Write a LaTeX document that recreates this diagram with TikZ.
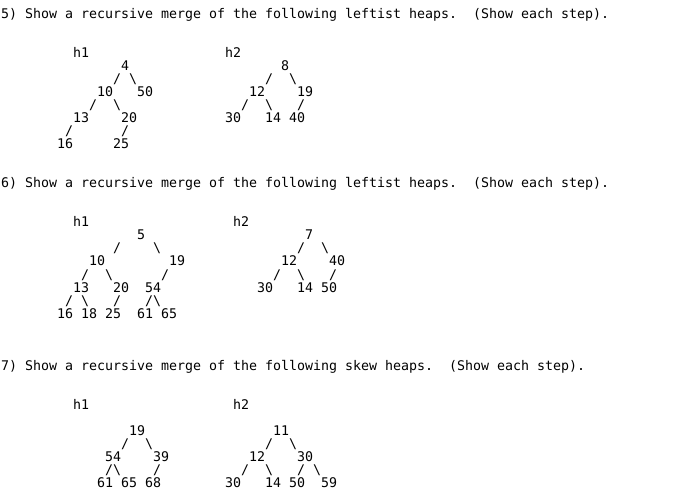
\documentclass[tikz,border=0pt]{standalone}
\usepackage{fontspec}
\newfontfamily\monofam{DejaVu Sans Mono}
\newcommand{\monosz}{\monofam\fontsize{13.29bp}{13bp}\selectfont}
% token: name, column, line, text
\newcommand{\tk}[4]{\node[tok] (#1) at ({1+8*#2},{-(19+13*#3)}) {#4};}
\newcommand{\bs}{\textbackslash}
\begin{document}
\begin{tikzpicture}[x=1bp,y=1bp,
  tok/.style={anchor=base west,inner sep=0pt,outer sep=0pt,font=\monosz,text=black}]
\useasboundingbox[fill=white] (0,0) rectangle (675,-503);
% ---------- 5 ----------
\tk{t5}{0}{0}{5) Show a recursive merge of the following leftist heaps.\ \ (Show each step).}
\tk{a-h1}{9}{3}{h1}
\tk{a-h2}{28}{3}{h2}
\tk{a4}{15}{4}{4}
\tk{a4l}{14}{5}{/}
\tk{a4r}{16}{5}{\bs}
\tk{a10}{12}{6}{10}
\tk{a50}{17}{6}{50}
\tk{a10l}{11}{7}{/}
\tk{a10r}{14}{7}{\bs}
\tk{a13}{9}{8}{13}
\tk{a20}{15}{8}{20}
\tk{a13l}{8}{9}{/}
\tk{a20l}{15}{9}{/}
\tk{a16}{7}{10}{16}
\tk{a25}{14}{10}{25}
\tk{b8}{35}{4}{8}
\tk{b8l}{33}{5}{/}
\tk{b8r}{36}{5}{\bs}
\tk{b12}{31}{6}{12}
\tk{b19}{37}{6}{19}
\tk{b12l}{30}{7}{/}
\tk{b12r}{33}{7}{\bs}
\tk{b19l}{37}{7}{/}
\tk{b30}{28}{8}{30}
\tk{b14}{33}{8}{14}
\tk{b40}{36}{8}{40}
% ---------- 6 ----------
\tk{t6}{0}{13}{6) Show a recursive merge of the following leftist heaps.\ \ (Show each step).}
\tk{c-h1}{9}{16}{h1}
\tk{c-h2}{29}{16}{h2}
\tk{c5}{17}{17}{5}
\tk{c5l}{14}{18}{/}
\tk{c5r}{19}{18}{\bs}
\tk{c10}{11}{19}{10}
\tk{c19}{21}{19}{19}
\tk{c10l}{10}{20}{/}
\tk{c10r}{13}{20}{\bs}
\tk{c19l}{20}{20}{/}
\tk{c13}{9}{21}{13}
\tk{c20}{14}{21}{20}
\tk{c54}{18}{21}{54}
\tk{c13l}{8}{22}{/}
\tk{c13r}{10}{22}{\bs}
\tk{c20l}{14}{22}{/}
\tk{c54l}{18}{22}{/}
\tk{c54r}{19}{22}{\bs}
\tk{c16}{7}{23}{16}
\tk{c18}{10}{23}{18}
\tk{c25}{13}{23}{25}
\tk{c61}{17}{23}{61}
\tk{c65}{20}{23}{65}
\tk{d7}{38}{17}{7}
\tk{d7l}{37}{18}{/}
\tk{d7r}{40}{18}{\bs}
\tk{d12}{35}{19}{12}
\tk{d40}{41}{19}{40}
\tk{d12l}{34}{20}{/}
\tk{d12r}{37}{20}{\bs}
\tk{d40l}{41}{20}{/}
\tk{d30}{32}{21}{30}
\tk{d14}{37}{21}{14}
\tk{d50}{40}{21}{50}
% ---------- 7 ----------
\tk{t7}{0}{27}{7) Show a recursive merge of the following skew heaps.\ \ (Show each step).}
\tk{e-h1}{9}{30}{h1}
\tk{e-h2}{29}{30}{h2}
\tk{e19}{16}{32}{19}
\tk{e19l}{15}{33}{/}
\tk{e19r}{18}{33}{\bs}
\tk{e54}{13}{34}{54}
\tk{e39}{19}{34}{39}
\tk{e54l}{13}{35}{/}
\tk{e54r}{14}{35}{\bs}
\tk{e39l}{19}{35}{/}
\tk{e61}{12}{36}{61}
\tk{e65}{15}{36}{65}
\tk{e68}{18}{36}{68}
\tk{f11}{34}{32}{11}
\tk{f11l}{33}{33}{/}
\tk{f11r}{36}{33}{\bs}
\tk{f12}{31}{34}{12}
\tk{f30}{37}{34}{30}
\tk{f12l}{30}{35}{/}
\tk{f12r}{33}{35}{\bs}
\tk{f30l}{37}{35}{/}
\tk{f30r}{39}{35}{\bs}
\tk{f30b}{28}{36}{30}
\tk{f14}{33}{36}{14}
\tk{f50}{36}{36}{50}
\tk{f59}{40}{36}{59}
\end{tikzpicture}
\end{document}
